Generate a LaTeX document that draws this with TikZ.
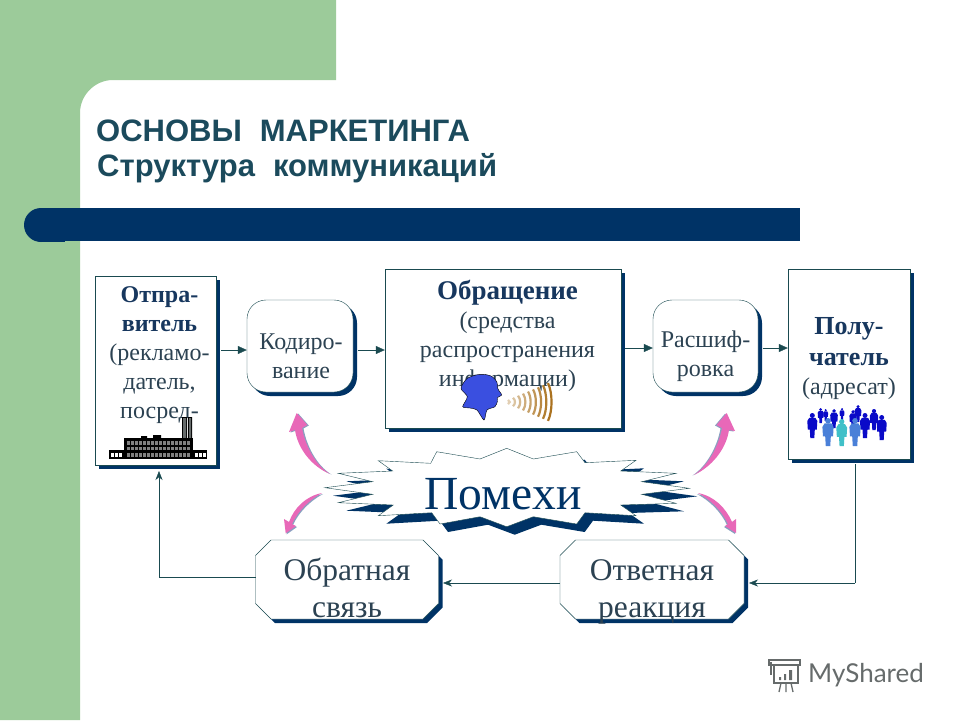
\documentclass[tikz,border=0pt]{standalone}
\usepackage{fontspec}
\setmainfont{Liberation Serif}
\setsansfont{Liberation Sans}
\newfontfamily\markfont{Lato}
\usetikzlibrary{
  arrows.meta,
  shapes.misc,
  chains,
  positioning,
  scopes,
  shadows
}
\definecolor{slidegreen}{HTML}{9CCB9A}
\definecolor{navy}{HTML}{003366}
\definecolor{titleink}{HTML}{1B4A5C}
\definecolor{boldink}{HTML}{17375E}
\definecolor{bodyink}{HTML}{2C4252}
\definecolor{lineink}{HTML}{1A4A50}
\definecolor{arrowpink}{HTML}{E868B8}
\definecolor{arrowgrey}{HTML}{8AA0C0}
\definecolor{headblue}{HTML}{3A4FE0}
\definecolor{waveink}{HTML}{A86E18}
\definecolor{crowdblue}{HTML}{0A0AC8}
\definecolor{crowdlight}{HTML}{4A80D8}
\definecolor{crowdteal}{HTML}{40C0C8}
\definecolor{markgrey}{HTML}{666B6B}

\newcommand{\strongline}[1]{\textbf{\textcolor{boldink}{#1}}}
\newcommand{\bentarrow}[2]{%
  \fill[arrowgrey,shift={#1}] #2;
  \fill[arrowpink] #2;
}
\newcommand{\person}[4]{%
  \begin{scope}[shift={(#1,#2)},x=#3pt,y=-#3pt]
    \fill[#4] (0,.1) circle (.1);
    \fill[#4] (-.12,.19) -- (.12,.19) -- (.2,.32) -- (.18,.66) -- (.1,.66)
       -- (.08,1) -- (-.08,1) -- (-.1,.66) -- (-.18,.66) -- (-.2,.32) -- cycle;
  \end{scope}
}

\begin{document}
\begin{tikzpicture}[
      x=1pt,y=-1pt,
      flatbox/.style={
         rectangle,
         draw=lineink,
         fill=white,
         align=center,
         text=bodyink,
         inner sep=0pt,
         drop shadow={shadow xshift=4pt,shadow yshift=-4pt,fill=navy,opacity=1},
         font=\fontsize{24}{29}\selectfont
      },
      roundbox/.style={
         flatbox,
         rounded corners=19pt
      },
      cutbox/.style={
         flatbox,
         chamfered rectangle,
         chamfered rectangle xsep=7.5pt,
         chamfered rectangle ysep=8pt
      },
      boxlabel/.style={
         align=center,
         inner sep=0pt,
         text=bodyink,
         font=\fontsize{24}{29}\selectfont
      },
      cutlabel/.style={
         boxlabel,
         yshift=-12pt,
         font=\fontsize{31.5}{37}\selectfont
      },
      titleline/.style={
         anchor=base west,
         inner sep=0pt,
         text=titleink,
         font=\sffamily\bfseries\fontsize{31}{36}\selectfont
      },
      point/.style={coordinate},
      thin,draw=lineink,
      tip/.style={-{Triangle[length=9pt,width=8pt,fill=lineink]}},
      backtip/.style={-{Stealth[length=9pt,width=7pt]}},
      hv path/.style={to path={-| (\tikztotarget)}},
      vh path/.style={to path={|- (\tikztotarget)}}
    ]
    \useasboundingbox (0,0) rectangle (960,720);

    % slide background
    \fill[slidegreen] (0,0) -- (336,0) -- (336,80) -- (113,80)
       .. controls (95,80) and (80,95) .. (80,113) -- (80,720) -- (0,720) -- cycle;
    \fill[navy] (41,225) circle (17);
    \fill[navy] (41,208) rectangle (65,242);
    \fill[navy] (41,208) rectangle (800,241);
    \node (title) [titleline] at (96,141) {ОСНОВЫ\hspace{18pt}МАРКЕТИНГА};
    \node (subtitle) [titleline] at (97,176) {Структура\hspace{18pt}коммуникаций};

    % boxes
    \node (sender) [flatbox,minimum width=121pt,minimum height=189pt,
       label={[boxlabel,xshift=4pt,yshift=15.5pt]center:\strongline{Отпра-}\\\strongline{витель}\\(рекламо-\\датель,\\посред-}]
       at (155.5,370.5) {};
    \node (coding) [roundbox,minimum width=106pt,minimum height=92pt,
       label={[boxlabel,xshift=1pt,yshift=-10.5pt]center:Кодиро-\\вание}] at (300,346) {};
    \node (message) [flatbox,minimum width=236pt,minimum height=159pt,
       label={[boxlabel,xshift=4.5pt,yshift=13pt]center:\strongline{\fontsize{27}{29}\selectfont Обращение}\\(средства\\распространения\\информации)}]
       at (503,348.5) {};
    \node (decoding) [roundbox,minimum width=105pt,minimum height=92pt,
       label={[boxlabel,yshift=-10.5pt]center:Расшиф-\\ровка}] at (705.5,346) {};
    \node (receiver) [flatbox,minimum width=122pt,minimum height=190pt] at (849,364)
       {\strongline{\fontsize{26}{31}\selectfont Полу-}\\[2pt]\strongline{\fontsize{26}{31}\selectfont чатель}\\(адресат)\\[-21pt]\strut};
    \node (feedback) [cutbox,minimum width=183pt,minimum height=79pt,
       label={[cutlabel]center:\strut Обратная\\\strut связь}] at (347,579.5) {\phantom{\rule{120pt}{40pt}}};
    \node (reaction) [cutbox,minimum width=184pt,minimum height=79pt,
       label={[cutlabel]center:\strut Ответная\\\strut реакция}] at (652,579.5) {\phantom{\rule{120pt}{40pt}}};

    % noise burst
    \def\burst{(436.7,451.7) -- (480,459) -- (506.7,448.3) -- (533.3,459) -- (576.7,451.7)
       -- (585,462.7) -- (636,460.3) -- (620.7,471) -- (676,473.3) -- (641.7,481.7)
       -- (689.3,488.3) -- (641.7,494.3) -- (676,503.3) -- (620.7,505) -- (636,515.7)
       -- (585,512.7) -- (576.7,524) -- (533.3,516.7) -- (506.7,526.7) -- (480,516.7)
       -- (440,524) -- (431.7,512.7) -- (378.3,515.7) -- (393.3,505) -- (338.3,502.7)
       -- (372.7,494.3) -- (325,487.7) -- (372.7,481.7) -- (338.3,473.3) -- (392.7,471)
       -- (378.3,460.7) -- (430.7,463.3) -- cycle}
    \fill[navy,shift={(8,8)}] \burst;
    \draw[lineink,fill=white] \burst;
    \node (noise) [inner sep=0pt,text=navy,font=\fontsize{47.5}{56}\selectfont] at (503,494) {Помехи};

    % pink arrows
    \bentarrow{(1.5,0.5)}{(330,474) .. controls (313,467) and (298,450) .. (295,430)
       -- (289,432) -- (296.7,413) -- (307.3,425) -- (302,428)
       .. controls (305,445) and (315,465) .. (330,474) -- cycle}
    \bentarrow{(-1.5,0.5)}{(694,475) .. controls (711,467) and (726,450) .. (729,430)
       -- (735,431) -- (726.7,413) -- (716.5,425) -- (722,428)
       .. controls (719,445) and (709,465) .. (694,475) -- cycle}
    \bentarrow{(1,1)}{(322,493) .. controls (306,496) and (294,508) .. (289,522)
       -- (284,519) -- (285.7,533.3) -- (296,526) -- (292,524)
       .. controls (298,511) and (309,500) .. (322,493) -- cycle}
    \bentarrow{(-1,1)}{(698,493) .. controls (714,496) and (726,508) .. (732,522)
       -- (736,519) -- (736,533) -- (725,526) -- (728,524)
       .. controls (722,511) and (711,500) .. (698,493) -- cycle}

    % factory
    \fill[black] (182,417) rectangle (187,438) (188,417) rectangle (192,438);
    \fill[markgrey] (183,418) rectangle (186,438) (189,418) rectangle (191,438);
    \fill[black] (124,438) rectangle (193,458.5);
    \fill[black] (109,450) rectangle (207,458.5);
    \fill[black] (141,436) rectangle (147,439) (153,435) rectangle (161,439);
    \foreach \wx in {127,131,...,187} {
       \fill[gray] (\wx,441) rectangle (\wx+3,444.5);
       \fill[gray] (\wx,447) rectangle (\wx+3,450);
       \fill[gray] (\wx,452.5) rectangle (\wx+3,456.5);
    }
    \foreach \wx in {111,115,119,195,199,203} {
       \fill[white] (\wx,452.5) rectangle (\wx+3,456.5);
    }

    % speaking head
    \draw[black,thin,fill=headblue] plot[smooth cycle,tension=.45] coordinates {
       (480,374.3) (491,376) (496.7,381.7) (498,389) (501.7,395) (497.5,397.5) (497.5,401) (495,406.7) (487,410)
       (484,420) (477,410) (470,408) (462.7,406.7) (467.3,396.7) (461,388.3) (467.3,378.3)};
    \foreach \wi in {1,...,9} {
       \draw[waveink!\the\numexpr 25+\wi*8\relax!white,line width=2.2pt]
          (503+\wi*5,402-\wi*2.1) .. controls (505+\wi*5.3,402-\wi) and (505+\wi*5.3,402+\wi) .. (503+\wi*5,402+\wi*2.1);
    }

    % crowd
    \person{812.3}{413}{25}{crowdblue}
    \person{820.7}{408}{15}{crowdblue}
    \person{825.7}{409}{12}{crowdblue}
    \person{834}{409}{19}{crowdblue}
    \person{842}{408}{12}{crowdblue}
    \person{853}{410}{18}{crowdblue}
    \person{858}{405}{17}{crowdblue}
    \person{865}{413}{25}{crowdblue}
    \person{874}{409}{21}{crowdblue}
    \person{881.7}{415}{25}{crowdblue}
    \person{828}{418}{28}{crowdlight}
    \person{841.7}{419}{27}{crowdteal}
    \person{855}{418}{28}{crowdlight}

    % connector ends
    \node (s1) [point] at (221,350) {};
    \node (e1) [point] at (coding.west |- s1) {};
    \node (s2) [point] at (358,350) {};
    \node (e2) [point] at (message.west |- s2) {};
    \node (s3) [point] at (625,348) {};
    \node (e3) [point] at (decoding.west |- s3) {};
    \node (s4) [point] at (763,348) {};
    \node (e4) [point] at (receiver.west |- s4) {};
    \node (s5) [point] at (855,464) {};
    \node (c5) [point] at (855,583) {};
    \node (e5) [point] at (749,583) {};
    \node (s6) [point] at (reaction.west |- e5) {};
    \node (e6) [point] at (443,583) {};
    \node (s7) [point] at (255.5,577) {};
    \node (c7) [point] at (159,577) {};
    \node (e7) [point] at (159,471) {};

  { [start chain]
       \chainin (s1);
       \chainin (e1)    [join=by tip];
  }
  { [start chain]
       \chainin (s2);
       \chainin (e2)    [join=by tip];
  }
  { [start chain]
       \chainin (s3);
       \chainin (e3)    [join=by tip];
  }
  { [start chain]
       \chainin (s4);
       \chainin (e4)    [join=by tip];
  }
  { [start chain]
       \chainin (s5);
       \chainin (c5)    [join];
       \chainin (e5)    [join=by backtip];
  }
  { [start chain]
       \chainin (s6);
       \chainin (e6)    [join=by backtip];
  }
  { [start chain]
       \chainin (s7);
       \chainin (c7)    [join];
       \chainin (e7)    [join=by backtip];
  }

    % watermark
    \node (mark) [anchor=base west,inner sep=0pt,text=markgrey,font=\markfont\fontsize{26}{30}\selectfont]
       at (808,682) {MyShared};
    \begin{scope}[markgrey,line width=1.3pt]
       \draw[markgrey] (771,662) -- (771,675) (769,660) rectangle (800,665);
       \draw[markgrey] (774,665) rectangle (798,683);
       \draw[markgrey] (781,683) -- (779,692) (786,683) -- (786,692) (791,683) -- (793,692);
       \fill (779,677) rectangle (781,680) (784,674) rectangle (786,680) (789,670) rectangle (792,680);
    \end{scope}
\end{tikzpicture}
\end{document}
